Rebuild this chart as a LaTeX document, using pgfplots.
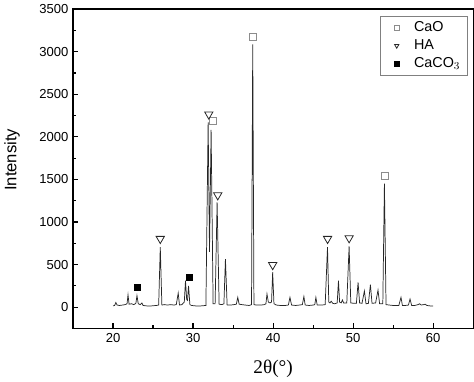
\documentclass[border=0pt]{standalone}
\usepackage{fontspec}
\setmainfont{Liberation Sans}
\newfontfamily\seriffont{Liberation Serif}
\usepackage{pgfplots}
\pgfplotsset{compat=1.18}
\begin{document}
\begin{tikzpicture}
\begin{axis}[
  scale only axis,
  width=300.75pt, height=240pt,
  xmin=15, xmax=65, ymin=-250, ymax=3500,
  xtick={20,30,40,50,60}, ytick={0,500,1000,1500,2000,2500,3000,3500},
  minor x tick num=1, minor y tick num=1,
  tick pos=left, tick align=inside,
  major tick length=4pt, minor tick length=2.5pt,
  axis line style={line width=1.1pt},
  every tick/.style={black, line width=0.9pt},
  /pgf/number format/assume math mode=true,
  scaled ticks=false,
  /pgf/number format/1000 sep={},
  ticklabel style={font=\fontsize{9.8}{11}\selectfont, black},
  xlabel={\seriffont 2θ(°)},
  xlabel style={at={(axis description cs:0.5,-0.125)}, anchor=center, font=\fontsize{14.5}{16}\selectfont},
  ylabel={Intensity},
  ylabel style={at={(axis description cs:-0.152,0.528)}, anchor=center, font=\fontsize{12.5}{14}\selectfont},
  legend style={at={(0.985,0.978)}, anchor=north east, draw=gray, line width=0.5pt,
    font=\fontsize{10.8}{12}\selectfont, row sep=0.5pt, inner xsep=3pt, inner ysep=2pt,
    nodes={inner sep=2pt}},
  legend cell align=left,
  legend image code/.code={\path[draw=none, fill=none] (0pt,0pt) -- (20pt,0pt); \path[#1, draw=none, fill=none] plot[only marks, mark size=1.9pt] coordinates {(9pt,0pt)};},
]
\addplot[forget plot, line width=0.55pt, color=black!85] coordinates {
(20.0,15) (20.2,20) (20.35,55) (20.5,25) (20.8,20) (21.2,25) (21.5,30) (21.75,40)
(21.87,145) (22.0,35) (22.3,40) (22.6,30) (22.85,45) (22.99,135) (23.15,40) (23.4,30)
(23.6,50) (23.75,20) (24.2,15) (24.8,15) (25.4,20) (25.7,25) (25.9,705) (26.1,25)
(26.4,30) (26.8,25) (27.2,30) (27.6,25) (27.9,30) (28.14,165) (28.3,25) (28.6,30)
(28.9,60) (29.05,310) (29.2,90) (29.3,80) (29.43,250) (29.6,30) (29.8,20) (30.3,15)
(31.0,15) (31.6,20) (31.88,2170) (32.05,650) (32.25,2080) (32.5,40) (32.75,40) (33.0,1230)
(33.25,35) (33.6,30) (33.85,40) (34.04,565) (34.25,25) (34.7,25) (35.1,30) (35.4,35)
(35.58,115) (35.75,35) (36.1,30) (36.5,25) (37.0,20) (37.3,30) (37.45,3085) (37.6,30)
(37.9,25) (38.5,25) (38.9,30) (39.1,40) (39.23,155) (39.4,60) (39.6,50) (39.8,60)
(39.94,410) (40.1,40) (40.4,25) (40.9,20) (41.5,20) (41.9,25) (42.1,115) (42.3,25)
(42.8,20) (43.3,25) (43.65,30) (43.84,125) (44.0,25) (44.5,20) (45.0,25) (45.2,30)
(45.34,115) (45.5,25) (46.1,25) (46.5,30) (46.79,705) (46.95,60) (47.1,50) (47.25,70)
(47.45,45) (47.7,40) (48.0,50) (48.16,310) (48.3,60) (48.5,50) (48.65,85) (48.8,50)
(49.2,50) (49.49,715) (49.7,50) (50.1,45) (50.4,45) (50.61,290) (50.8,50) (51.1,45)
(51.4,190) (51.6,40) (51.9,45) (52.15,265) (52.35,45) (52.8,50) (53.1,200) (53.3,40)
(53.7,40) (53.9,1450) (54.1,30) (54.5,25) (55.0,20) (55.7,20) (55.97,115) (56.15,20)
(56.5,20) (56.9,25) (57.1,95) (57.3,20) (57.7,20) (58.1,30) (58.3,40) (58.5,25)
(58.8,30) (59.0,35) (59.2,20) (59.6,15) (60.0,15)
};
\addplot[only marks, mark=square, mark size=2.6pt, mark options={draw=black!45, fill=white, line width=0.6pt}] coordinates {
(32.46,2185) (37.45,3169) (53.94,1543)
};
\addlegendentry{CaO}
\addplot[only marks, mark=triangle, mark size=3.6pt, mark options={rotate=180, draw=black!85, fill=white, line width=0.6pt}] coordinates {
(31.96,2264) (25.9,803) (33.08,1315) (39.94,496) (46.8,803) (49.49,811)
};
\addlegendentry{HA}
\addplot[only marks, mark=square*, mark size=2.3pt, mark options={draw=black, fill=black}] coordinates {
(22.99,232) (29.47,350)
};
\addlegendentry{CaCO$_3$}
\end{axis}
\end{tikzpicture}
\end{document}
